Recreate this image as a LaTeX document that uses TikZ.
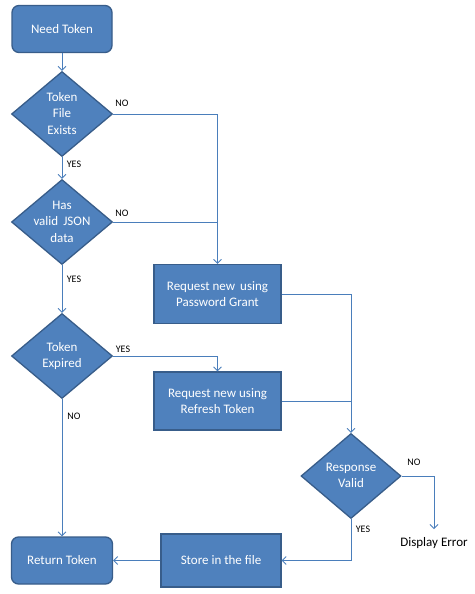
\documentclass[tikz,border=0pt]{standalone}
\usepackage{fontspec}
\setmainfont{Carlito}
\usetikzlibrary{shapes.geometric,arrows.meta}
\definecolor{boxfill}{HTML}{4F81BD}
\definecolor{boxline}{HTML}{385D8A}
\definecolor{linecol}{HTML}{4A7EBB}
\newcommand{\dtxt}[1]{\makebox[0pt]{\smash{\raisebox{-0.25em}{\begin{tabular}{@{}c@{}}#1\end{tabular}}}}}
\tikzset{
  box/.style={draw=boxline, fill=boxfill, line width=1.3pt, text=white, align=center,
    font=\fontsize{13}{16.5}\selectfont, inner sep=0pt},
  termbox/.style={box, rounded corners=7pt},
  decision/.style={box, diamond, minimum width=101pt, minimum height=85pt},
  conn/.style={draw=linecol, line width=0.8pt},
  arr/.style={conn, -{Straight Barb[length=4pt,width=8pt]}},
  lab/.style={font=\fontsize{10}{12}\selectfont, inner sep=0pt},
}
\begin{document}
\begin{tikzpicture}[x=1pt,y=-1pt]
\useasboundingbox[fill=white] (0,0) rectangle (474,594);
\node[termbox, minimum width=100pt, minimum height=47pt] (need) at (62,29) {Need Token};
\node[decision] (d1) at (62,114) {\dtxt{Token\\File\\Exists}};
\node[decision] (d2) at (62,222) {\dtxt{Has\\valid\ \,JSON\\data}};
\node[decision] (d3) at (62,356) {\dtxt{Token\\Expired}};
\node[box, minimum width=127pt, minimum height=59pt] (pg) at (217.5,294) {Request new\ \,using\\Password Grant};
\node[box, minimum width=127pt, minimum height=58pt] (rt) at (217.5,401) {Request new using\\Refresh Token};
\node[decision, minimum width=100pt] (rv) at (351,476) {\dtxt{Response\\Valid}};
\node[termbox, minimum width=101pt, minimum height=47pt] (ret) at (62,560.5) {Return Token};
\node[box, minimum width=120pt, minimum height=53pt] (store) at (221,560.5) {Store\ in the file};
\node[font=\fontsize{13}{16}\selectfont, inner sep=0pt, anchor=north] (err) at (434,537) {Display Error};

\draw[arr] (need) -- (d1);
\draw[arr] (d1) -- (d2);
\draw[arr] (d1.east) -| (pg.north);
\draw[conn] (d2.east) -- (d2.east -| pg.north);
\draw[arr] (d2) -- (d3);
\draw[arr] (d3.east) -| (rt.north);
\draw[arr] (d3) -- (ret);
\draw[arr] (pg.east) -| (rv.north);
\draw[conn] (rt.east) -- (rt.east -| rv.north);
\draw[arr] (rv.south) |- (store.east);
\draw[arr] (rv.east) -| ([yshift=8pt]err.north);
\draw[arr] (store) -- (ret);

\node[lab] (l1) at (122,103) {NO};
\node[lab] (l2) at (74,164) {YES};
\node[lab] (l3) at (122,213) {NO};
\node[lab] (l4) at (74,279) {YES};
\node[lab] (l5) at (123,349) {YES};
\node[lab] (l6) at (74,416) {NO};
\node[lab] (l7) at (414,462) {NO};
\node[lab] (l8) at (363,529) {YES};
\end{tikzpicture}
\end{document}
